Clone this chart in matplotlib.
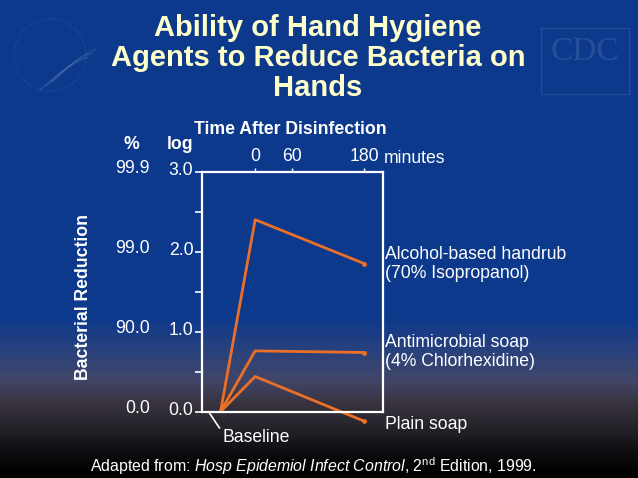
import numpy as np
import matplotlib
matplotlib.use("Agg")
import matplotlib.pyplot as plt
from matplotlib.colors import LinearSegmentedColormap
from matplotlib.patches import Circle, Rectangle
from matplotlib.transforms import ScaledTranslation

# data (log10 reduction vs. minutes after disinfection)
times = [-57, 0, 180]          # first point is the "Baseline"
alcohol = [0.0, 2.40, 1.85]
chlorhexidine = [0.0, 0.76, 0.74]
plain_soap = [0.0, 0.44, -0.12]

series_labels = ["Alcohol-based handrub\n(70% Isopropanol)",
                 "Antimicrobial soap\n(4% Chlorhexidine)",
                 "Plain soap"]
label_y = [1.85, 0.745, -0.16]

log_ticks = [0.0, 1.0, 2.0, 3.0]
pct_labels = ["0.0", "90.0", "99.0", "99.9"]
time_ticks = [0, 60, 180]

plt.rcParams['font.family'] = ['Liberation Sans', 'DejaVu Sans']
plt.rcParams['mathtext.fontset'] = 'custom'
plt.rcParams['mathtext.rm'] = 'Liberation Sans'
plt.rcParams['mathtext.it'] = 'Liberation Sans:italic'

FS = 12.7
W, H = 638, 478
fig = plt.figure(figsize=(W / 100, H / 100), dpi=100)
lift = ScaledTranslation(0, 3 / 100, fig.dpi_scale_trans)  # labels sit a bit above ticks

# slide background: solid blue fading to black at the bottom
blue = (13 / 255, 57 / 255, 140 / 255)
stops = [(0.0, blue), (318 / H, blue), (350 / H, (40 / 255, 65 / 255, 125 / 255)),
         (380 / H, (65 / 255, 70 / 255, 105 / 255)), (405 / H, (55 / 255, 50 / 255, 62 / 255)),
         (430 / H, (35 / 255, 35 / 255, 40 / 255)), (455 / H, (12 / 255, 12 / 255, 15 / 255)),
         (1.0, (0, 0, 0))]
cmap = LinearSegmentedColormap.from_list("slide", stops)
bg = fig.add_axes([0, 0, 1, 1])
bg.imshow(np.linspace(0, 1, H).reshape(-1, 1), aspect='auto', cmap=cmap,
          extent=[0, W, H, 0])
bg.set_xlim(0, W)
bg.set_ylim(H, 0)
bg.axis('off')

# faint logos
bg.add_patch(Circle((50, 55), 36, fill=False, ec='white', alpha=0.10, lw=1, ls=':'))
for k in range(3):
    xs = np.linspace(40 + k * 6, 88 + k * 4, 30)
    ys = 90 - k * 4 - 35 * np.sin(np.linspace(0, 1.2, 30))
    bg.plot(xs, ys, color='white', alpha=0.09, lw=1.2)
bg.add_patch(Rectangle((541, 28), 88, 66, fill=False, ec='white', alpha=0.10, lw=1))
bg.text(585, 52, "CDC", color='white', alpha=0.11, fontsize=24, family='Liberation Serif',
        ha='center', va='center')

# title
bg.text(318, 58, "Ability of Hand Hygiene\nAgents to Reduce Bacteria on\nHands",
        color='#FFFFCC', fontsize=21, fontweight='bold', ha='center', va='center',
        linespacing=1.08)

# chart
ax = fig.add_axes([201.7 / W, 1 - 411.7 / H, 181 / W, 240 / H])
ax.patch.set_alpha(0)
orange = '#EC6F28'
for vals in (alcohol, chlorhexidine, plain_soap):
    ax.plot(times, vals, color=orange, lw=2.0, clip_on=False, solid_capstyle='round',
            marker='o', markersize=2.5, markevery=[2])

ax.set_xlim(-88, 210)
ax.set_ylim(0, 3.0)
for s in ax.spines.values():
    s.set_color('white')
    s.set_linewidth(1.6)

ax.set_yticks(log_ticks)
ax.set_yticklabels([f"{v:.1f}" for v in log_ticks])
ax.set_yticks([0.5, 1.5, 2.5], minor=True)
ax.tick_params(axis='y', which='both', direction='out', length=5, width=1.2,
               colors='white', labelsize=FS, pad=1)
for t in ax.get_yticklabels():
    t.set_transform(t.get_transform() + lift)

ax.xaxis.tick_top()
ax.set_xticks(time_ticks)
ax.tick_params(axis='x', direction='out', length=3, width=1, colors='white',
               labelsize=FS, pad=2)

for v, p in zip(log_ticks, pct_labels):
    ax.text(-0.285, v, p, transform=ax.get_yaxis_transform() + lift, color='white',
            fontsize=FS, ha='right', va='center')

ax.text(-0.39, 1.112, "%", transform=ax.transAxes, color='white', fontsize=FS,
        fontweight='bold', ha='center', va='center')
ax.text(-0.12, 1.112, "log", transform=ax.transAxes, color='white', fontsize=FS,
        fontweight='bold', ha='center', va='center')
ax.text(0.49, 1.175, "Time After Disinfection", transform=ax.transAxes, color='white',
        fontsize=FS, fontweight='bold', ha='center', va='center')
ax.text(1.005, 1.055, "minutes", transform=ax.transAxes, color='white', fontsize=FS,
        ha='left', va='center')

for lbl, y in zip(series_labels, label_y):
    ax.text(1.01, y, lbl, transform=ax.get_yaxis_transform(), color='white', fontsize=FS,
            ha='left', va='center', linespacing=1.15, clip_on=False)

ax.annotate("Baseline", xy=(-75, -0.02), xytext=(-54, -0.32), color='white', fontsize=FS,
            ha='left', va='center', annotation_clip=False,
            arrowprops=dict(arrowstyle='-', color='white', lw=1.2, shrinkA=0, shrinkB=0,
                            relpos=(0.0, 0.8)))

ax.text(-0.655, 0.48, "Bacterial Reduction", transform=ax.transAxes, color='white',
        fontsize=FS, fontweight='bold', rotation=90, ha='center', va='center')

# source line
bg.text(313, 466, r"Adapted from: $\it{Hosp\ Epidemiol\ Infect\ Control}$, 2$^{\rm nd}$ Edition, 1999.",
        color='white', fontsize=11.4, ha='center', va='center')

fig.savefig("out.png", dpi=100)
